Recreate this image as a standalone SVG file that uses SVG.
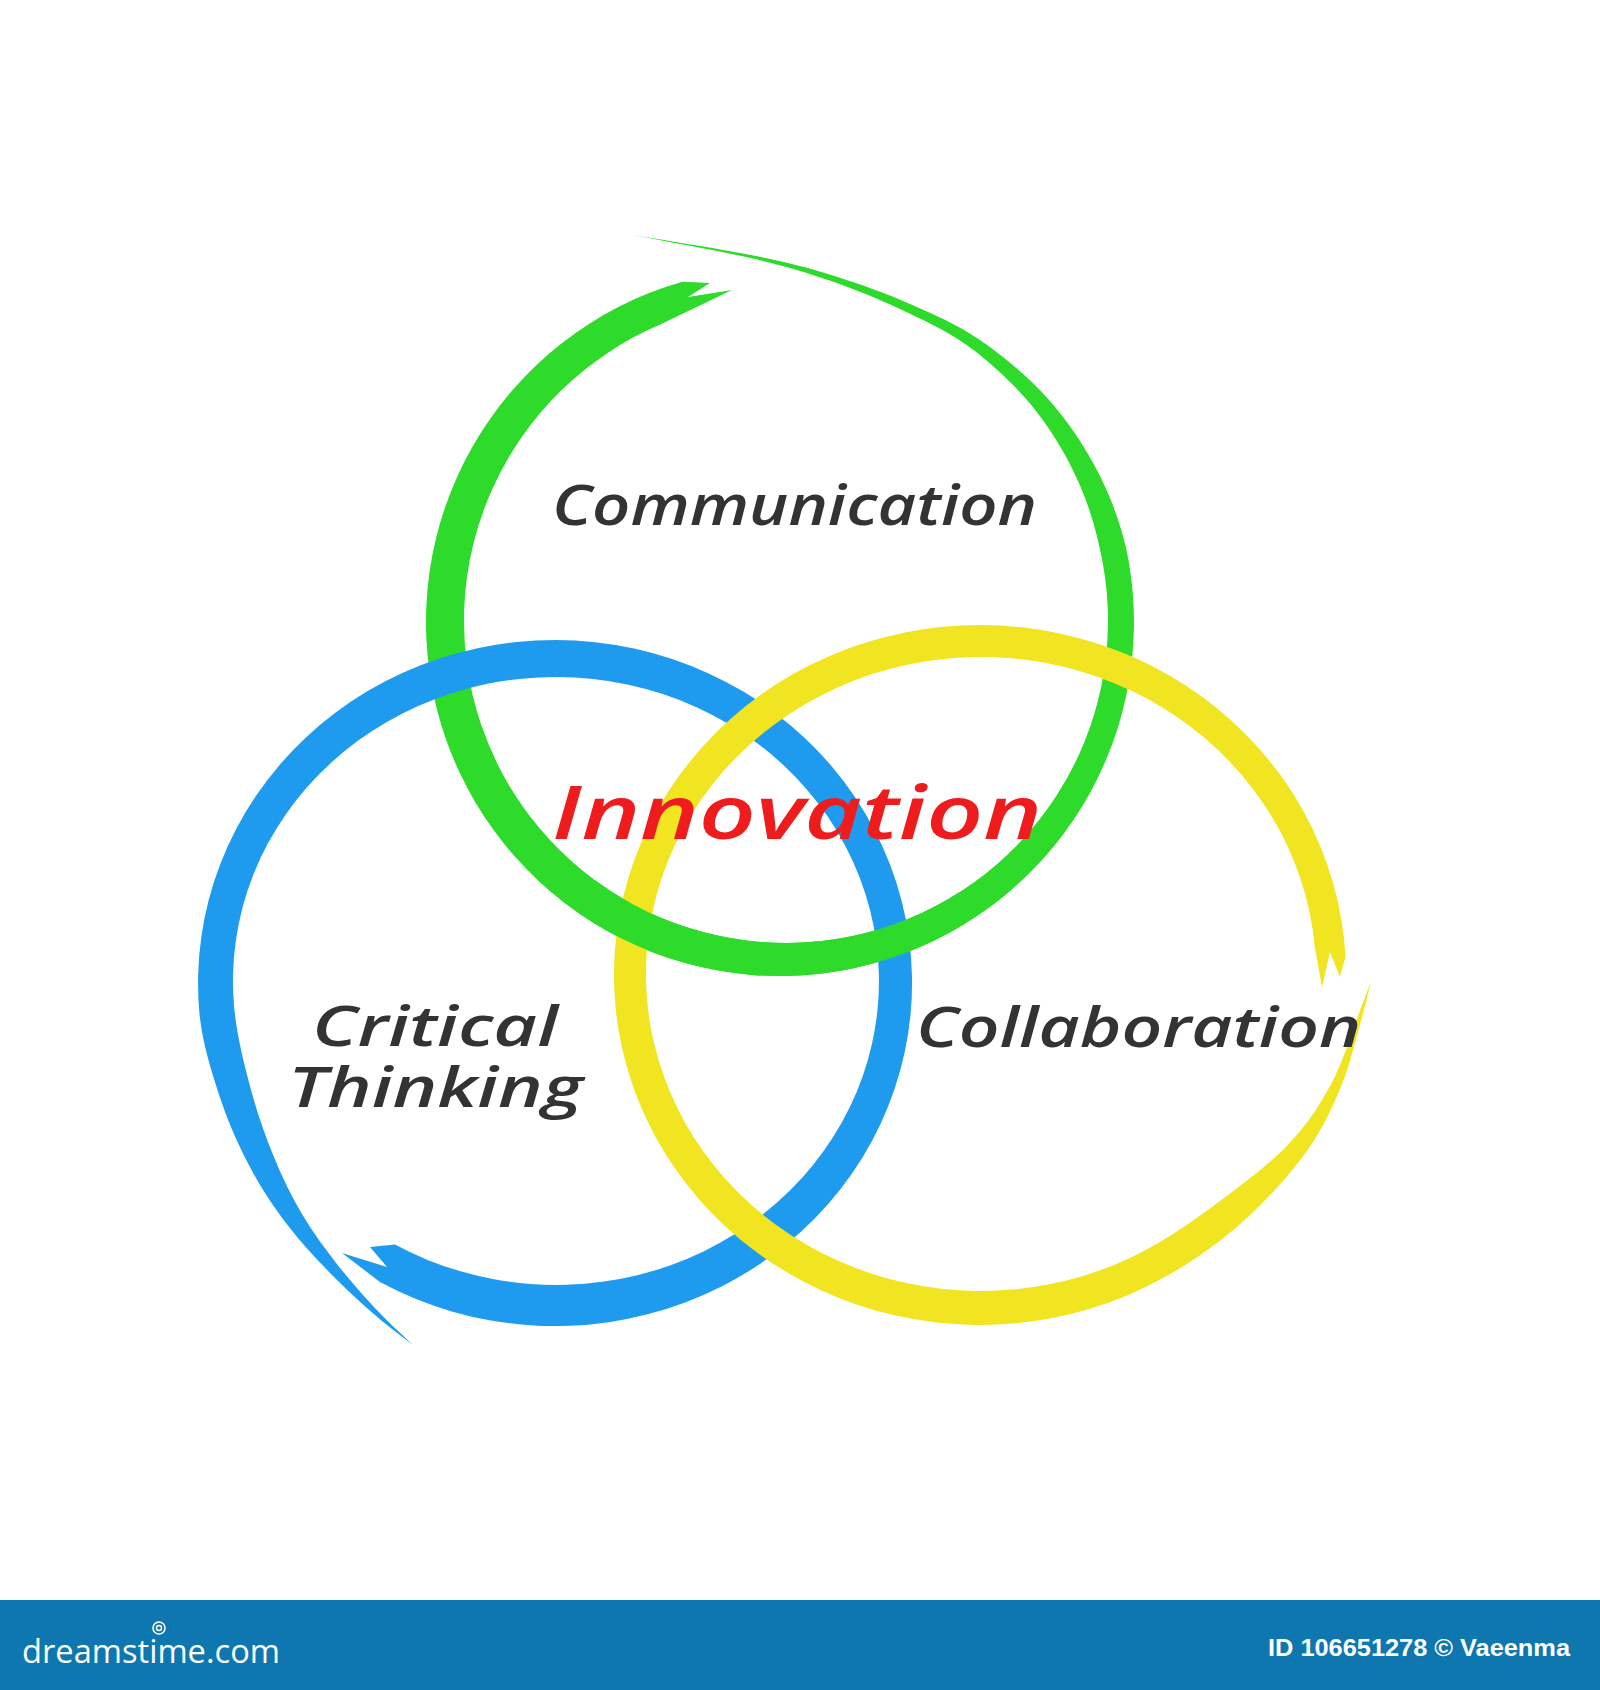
<svg xmlns="http://www.w3.org/2000/svg" xmlns:xlink="http://www.w3.org/1999/xlink" width="1600" height="1690" viewBox="0 0 1600 1690">
<style>
.lbl{font-family:"Open Sans","Noto Sans","DejaVu Sans",sans-serif;font-style:italic;font-weight:600;fill:#333333}
.main{font-family:"Open Sans","Noto Sans","DejaVu Sans",sans-serif;font-style:italic;font-weight:600;fill:#ee1c1c}
.green{fill:#2edb2b}
.blue{fill:#1e9bef}
.yellow{fill:#f0e520}
.foot{font-family:"Liberation Sans",Arial,sans-serif;fill:#ffffff}
</style>
<defs>
<clipPath id="greenFront"><rect x="560" y="880" width="400" height="120"/></clipPath>
</defs>
<rect x="0" y="0" width="1600" height="1690" fill="#ffffff"/>

<g id="circle-communication">
<path id="green-ring" class="green" d="M 682.4 281.7 A 354 354 0 1 0 1128.6 560.5 C 1123.3 530.7 1112.7 501.5 1099.3 474.6 C 1085.9 447.7 1068.2 421.6 1048.4 399.2 C 1028.6 376.8 1003.15 356 980.3 340.2 C 957.45 324.4 935.7 315.2 911.3 304.4 C 886.9 293.6 860 283.8 833.7 275.65 C 807.4 267.5 786.75 262.3 753.3 255.5 C 719.85 248.7 673.1 241.8 633 235 C 672.9 242.8 719.55 250.8 752.7 258.5 C 785.85 266.2 806 272.3 831.9 281.35 C 857.8 290.4 884.3 301.4 907.9 312.8 C 931.5 324.2 952.25 333.8 973.5 350 C 994.75 366.2 1017.8 387.9 1035.4 410.2 C 1053 432.5 1068 458 1079.3 483.8 C 1090.6 509.6 1098.2 537.3 1103.1 565.1 A 322 322 0 1 1 660.2 324.6 L 732 290 L 688 297 L 710 283 Z"/>
<text class="lbl" x="552" y="525" font-size="56" textLength="485" lengthAdjust="spacingAndGlyphs">Communication</text>
</g>

<g id="circle-critical-thinking">
<path class="blue" d="M 342 1253 L 380 1282 A 357 343 0 1 0 199.4 1012.9 C 202.1 1042.3 211.8 1072.75 220.5 1099 C 229.2 1125.25 240.3 1149 251.8 1170.4 C 263.3 1191.8 275.9 1209.8 289.3 1227.2 C 302.7 1244.6 317.5 1260.1 332 1274.9 C 346.5 1289.7 362.9 1304.5 376.4 1316.2 C 389.9 1327.9 400.8 1335.4 413 1345 C 401.5 1333.9 391 1325 378.6 1311.8 C 366.2 1298.6 351.1 1282.1 338.4 1265.9 C 325.7 1249.7 313.1 1232.9 302.3 1214.6 C 291.5 1196.3 282.2 1177.3 273.6 1156.2 C 265 1135.1 257.1 1112.8 250.5 1088 C 243.9 1063.2 236.7 1034.7 234.2 1007.5 A 323 304 0 1 1 395 1244.5 L 370 1247 L 387 1267 Z"/>
<text class="lbl" x="312" y="1046" font-size="56" textLength="246" lengthAdjust="spacingAndGlyphs">Critical</text>
<text class="lbl" x="288" y="1107" font-size="56" textLength="295" lengthAdjust="spacingAndGlyphs">Thinking</text>
</g>

<g id="circle-collaboration">
<path class="yellow" d="M 1340 977 L 1345.5 956.7 A 366 350 0 1 0 1163 1278.1 C 1190.5 1262.9 1216.55 1244.6 1240.2 1223.9 C 1263.85 1203.2 1288.1 1176.6 1304.9 1153.75 C 1321.7 1130.9 1331.3 1110 1341 1086.6 C 1350.7 1063.2 1358.1 1030.8 1363.1 1013.3 C 1368.1 995.8 1368.3 992.1 1370.9 981.5 C 1367 992 1365.7 995.9 1359.1 1012.9 C 1352.5 1029.9 1343.2 1061.7 1331.4 1083.6 C 1319.6 1105.5 1307.1 1124.7 1288.5 1144.25 C 1269.9 1163.8 1243.3 1183.6 1220 1201 C 1196.7 1218.4 1173.6 1234.8 1148.5 1248.5 A 335 317 0 1 1 1314.7 946.4 L 1322 987 L 1330 952 Z"/>
<text class="lbl" x="916" y="1047" font-size="56" textLength="445" lengthAdjust="spacingAndGlyphs">Collaboration</text>
</g>

<use xlink:href="#green-ring" href="#green-ring" clip-path="url(#greenFront)"/>

<g id="connectors"></g>

<g id="center-innovation">
<text class="main" x="552" y="839" font-size="74" textLength="490" lengthAdjust="spacingAndGlyphs">Innovation</text>
</g>

<g id="footer">
<rect x="0" y="1600" width="1600" height="90" fill="#0f77b0"/>
<text class="foot" x="22" y="1663" font-size="32" textLength="258" lengthAdjust="spacingAndGlyphs" style="font-family:'Open Sans','DejaVu Sans',sans-serif">dreamstime.com</text>
<circle cx="159" cy="1628" r="6" fill="none" stroke="#ffffff" stroke-width="1.6"/>
<circle cx="159" cy="1628" r="2.5" fill="none" stroke="#ffffff" stroke-width="1.4"/>
<text class="foot" x="1268" y="1656" font-size="24" font-weight="bold" textLength="302" lengthAdjust="spacingAndGlyphs">ID 106651278 © Vaeenma</text>
</g>
</svg>
